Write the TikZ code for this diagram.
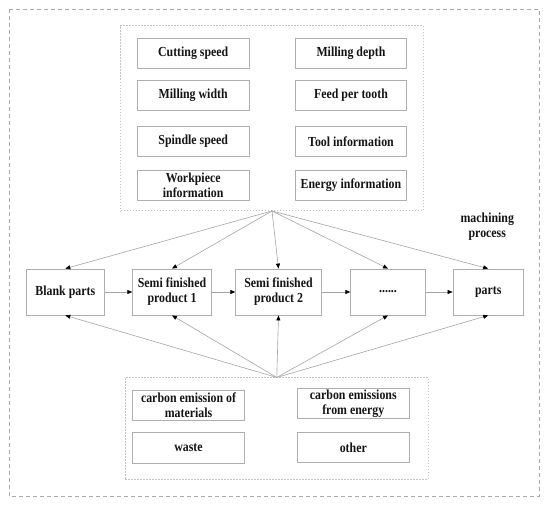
\documentclass[tikz,border=0pt]{standalone}
\usepackage{fontspec}
\setmainfont{Liberation Serif}[FakeStretch=0.86]
\usetikzlibrary{arrows.meta}
\definecolor{boxgray}{RGB}{175,175,175}
\definecolor{linegray}{RGB}{165,165,165}
\definecolor{framegray}{RGB}{170,170,170}
\definecolor{grpgray}{RGB}{195,195,195}
\definecolor{txt}{RGB}{20,20,20}
\tikzset{
  lbl/.style={font=\fontsize{13.8}{15}\selectfont\bfseries, text=txt, align=center},
  pbox/.style={lbl, draw=boxgray, line width=0.8pt, inner sep=0pt, minimum width=#1},
  conn/.style={draw=linegray, line width=0.6pt, -{Triangle[length=5pt,width=4pt,color=black]}},
  grpbox/.style={draw=grpgray, line width=0.5pt, dash pattern=on 1.5pt off 1.5pt},
  outer/.style={draw=framegray, line width=0.7pt, dash pattern=on 4pt off 3pt}
}
\begin{document}
\begin{tikzpicture}[x=1pt,y=-1pt]
\useasboundingbox (0,0) rectangle (550,505);
% outer frame
\draw[outer] (9.3,9) rectangle (539.3,496);
% group frames
\node[grpbox, minimum width=302.6pt, minimum height=185pt, inner sep=0pt] (top) at (272,118.2) {};
\node[grpbox, minimum width=303pt, minimum height=101.6pt, inner sep=0pt] (bot) at (276.8,428.5) {};
% top parameter boxes
\node[pbox=111.7pt, minimum height=30pt] (cs) at (193.2,53.3) {Cutting speed};
\node[pbox=111.7pt, minimum height=29.7pt] (mw) at (193.2,95.2) {Milling width};
\node[pbox=111.7pt, minimum height=29.6pt] (ss) at (193.2,141.5) {Spindle speed};
\node[pbox=111.7pt, minimum height=30pt] (wi) at (193.2,185.3) {Workpiece\\information};
\node[pbox=111.4pt, minimum height=30pt] (md) at (351,53.3) {Milling depth};
\node[pbox=111.4pt, minimum height=29.7pt] (fpt) at (351,95.2) {Feed per tooth};
\node[pbox=111.4pt, minimum height=29.6pt] (ti) at (351,141.5) {Tool information};
\node[pbox=111.4pt, minimum height=30pt] (ei) at (351,185.3) {Energy information};
% process boxes
\node[pbox=78.7pt, minimum height=46pt] (bp) at (65.3,292) {Blank parts};
\node[pbox=78.6pt, minimum height=46pt] (sf1) at (172,292) {Semi finished\\product 1};
\node[pbox=85.6pt, minimum height=46pt] (sf2) at (278.5,292) {Semi finished\\product 2};
\node[pbox=74.6pt, minimum height=46pt] (dt) at (388,292) {......};
\node[pbox=70.3pt, minimum height=46pt] (pa) at (488.2,292) {parts};
\node[lbl] (mp) at (487.3,226.5) {machining\\process};
% bottom boxes
\node[pbox=111.6pt, minimum height=30pt] (cem) at (188.5,405.3) {carbon emission of\\materials};
\node[pbox=111.6pt, minimum height=30.3pt] (ws) at (188.5,447.8) {waste};
\node[pbox=112pt, minimum height=30pt] (cee) at (353.3,403.7) {carbon emissions\\from energy};
\node[pbox=112pt, minimum height=29.3pt] (ot) at (353.3,447.3) {other};
% connectors from top group
\foreach \t in {bp,sf1,sf2,dt,pa} \draw[conn] (top.south) -- (\t.north);
% connectors from bottom group
\foreach \t in {bp,sf1,sf2,dt,pa} \draw[conn] (bot.north) -- (\t.south);
% process chain
\draw[conn] (bp) -- (sf1);
\draw[conn] (sf1) -- (sf2);
\draw[conn] (sf2) -- (dt);
\draw[conn] (dt) -- (pa);
\end{tikzpicture}
\end{document}
